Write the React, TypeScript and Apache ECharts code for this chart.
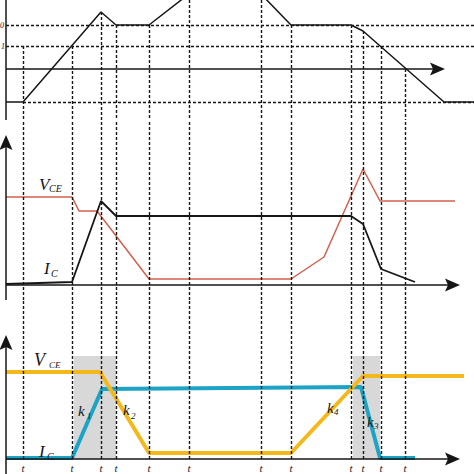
import React, { useEffect, useRef } from 'react';
import * as echarts from 'echarts';

// switching instants (time axis) and their labels
const tValues = [17, 66, 95, 110, 143, 183, 255, 285, 345, 357, 375, 399];
const tickLabels = ['t', 't', 't', 't', 't', 't', 't', 't', 't', 't', 't', 't'];
// level where each dashed guide starts in the top panel
const tStartTop = [23, 23, 57, 44, 44, 69, 69, 44, 44, 38, 23, 0];

// top panel waveform
const topX = [0, 17, 95, 110, 143, 224, 285, 345, 357, 438, 468];
const topY = [-33, -33, 57, 44, 44, 107, 44, 44, 38, -33, -33];
const topRefLevels = [44, 23, -33];
const topRefStart = [0, 0, 17];

// middle panel (measured)
const midVceX = [0, 66, 73, 91, 143, 285, 318, 357, 374, 449];
const midVceY = [88, 88, 74, 74, 6, 6, 28, 116, 84, 84];
const midIcX = [0, 66, 95, 110, 345, 357, 375, 409];
const midIcY = [1, 3, 84, 69, 69, 61, 16, 3];

// bottom panel (idealised)
const botVceX = [0, 94, 143, 285, 357, 458];
const botVceY = [87, 87, 6, 6, 83, 83];
const botIcX = [0, 66, 96, 355, 374, 409];
const botIcY = [1, 1, 70, 72, 1, 1];
const shadeStart = [68, 347];
const shadeEnd = [110, 374];
const shadeTop = 103;

const pts = (xs: number[], ys: number[]) => xs.map((x, i) => [x, ys[i]]);

const ARROW = 'path://M6.5,0 L13,15 L6.5,12 L0,15 Z';
const SERIF = '"Liberation Serif", "DejaVu Serif", serif';
const INK = '#161616';

const dash = { color: INK, width: 1.4, type: [3, 2] as any, opacity: 1 };
const solid = { color: INK, width: 1.5, type: 'solid' as any, opacity: 1 };

function guideSeries(grid: number, lines: any[], style: any, z: number) {
  return {
    type: 'line',
    xAxisIndex: grid,
    yAxisIndex: grid,
    data: [],
    z,
    silent: true,
    markLine: {
      silent: true,
      symbol: ['none', 'none'],
      label: { show: false },
      emphasis: { disabled: true },
      lineStyle: style,
      data: lines,
    },
  };
}

function txt(text: string, x: number, y: number, size: number) {
  return {
    type: 'text',
    x,
    y,
    z: 100,
    silent: true,
    style: {
      text,
      fill: INK,
      font: `italic ${size}px ${SERIF}`,
      align: 'left',
      verticalAlign: 'middle',
    },
  };
}

export default function App() {
  const ref = useRef<HTMLDivElement>(null);
  useEffect(() => {
    const chart = echarts.init(ref.current!, null, { renderer: 'svg' });
    const xMax = 468;
    const topVert = tValues.map((t, i) => [{ coord: [t, tStartTop[i]] }, { coord: [t, -51] }]);
    const topHor = topRefLevels.map((lv, i) => [{ coord: [topRefStart[i], lv] }, { coord: [xMax, lv] }]);
    const midVert = tValues.map((t) => [{ coord: [t, -15] }, { coord: [t, 165] }]);
    const botVert = tValues.map((t) => [{ coord: [t, 0] }, { coord: [t, 159] }]);

    const arrowEnd = (x: number, y: number) => ({ coord: [x, y], symbol: ARROW, symbolSize: 15, symbolKeepAspect: true });

    const gridBase = { left: 6, width: 468, containLabel: false, outerBoundsMode: 'none' };

    const option: any = {
      animation: false,
      backgroundColor: '#ffffff',
      grid: [
        { ...gridBase, top: 0, height: 120 },
        { ...gridBase, top: 120, height: 180 },
        { ...gridBase, top: 300, height: 174 },
        // label strip: its bottom edge is the time axis of the bottom panel
        { ...gridBase, top: 300, height: 159 },
      ],
      xAxis: [
        { gridIndex: 0, type: 'value', min: 0, max: xMax, show: false },
        { gridIndex: 1, type: 'value', min: 0, max: xMax, show: false },
        { gridIndex: 2, type: 'value', min: 0, max: xMax, show: false },
        {
          gridIndex: 3,
          type: 'value',
          position: 'bottom',
          min: 0,
          max: xMax,
          axisLine: { show: false },
          axisTick: { show: false },
          splitLine: { show: false },
          axisLabel: {
            customValues: tValues,
            margin: 3,
            color: INK,
            fontFamily: SERIF,
            fontStyle: 'italic',
            fontSize: 11,
            lineHeight: 11,
            formatter: (v: number) => tickLabels[tValues.indexOf(v)] || 't',
          },
        },
      ],
      yAxis: [
        { gridIndex: 0, type: 'value', min: -51, max: 69, show: false },
        { gridIndex: 1, type: 'value', min: -15, max: 165, show: false },
        { gridIndex: 2, type: 'value', min: -15, max: 159, show: false },
        { gridIndex: 3, type: 'value', min: 0, max: 159, show: false },
      ],
      series: [
        // top panel
        guideSeries(0, [...topVert, ...topHor], dash, 2),
        guideSeries(0, [
          [{ coord: [0, -51] }, { coord: [0, 69] }],
          [{ coord: [0, 0] }, arrowEnd(431.5, 0)],
        ], solid, 2),
        {
          type: 'line', xAxisIndex: 0, yAxisIndex: 0, data: pts(topX, topY), symbol: 'none', silent: true, z: 3,
          lineStyle: { color: INK, width: 1.5 },
        },
        // middle panel
        guideSeries(1, midVert, dash, 2),
        guideSeries(1, [
          [{ coord: [0, -15] }, arrowEnd(0, 142.5)],
          [{ coord: [0, 0] }, arrowEnd(446.5, 0)],
        ], solid, 2),
        {
          type: 'line', xAxisIndex: 1, yAxisIndex: 1, data: pts(midVceX, midVceY), symbol: 'none', silent: true, z: 3,
          lineStyle: { color: '#d2604c', width: 1.5 },
        },
        {
          type: 'line', xAxisIndex: 1, yAxisIndex: 1, data: pts(midIcX, midIcY), symbol: 'none', silent: true, z: 4,
          lineStyle: { color: INK, width: 1.8 },
        },
        // bottom panel
        {
          type: 'line', xAxisIndex: 2, yAxisIndex: 2, data: [], z: 1, silent: true,
          markArea: {
            silent: true,
            itemStyle: { color: '#d8d8d8' },
            label: { show: false },
            emphasis: { disabled: true },
            data: shadeStart.map((s, i) => [{ coord: [s, 0] }, { coord: [shadeEnd[i], shadeTop] }]),
          },
        },
        guideSeries(2, botVert, dash, 2),
        guideSeries(2, [
          [{ coord: [0, -15] }, arrowEnd(0, 116.5)],
          [{ coord: [0, 0] }, arrowEnd(446.5, 0)],
        ], solid, 2),
        {
          type: 'line', xAxisIndex: 2, yAxisIndex: 2, data: pts(botIcX, botIcY), symbol: 'none', silent: true, z: 3,
          lineStyle: { color: '#1ca3c5', width: 4 },
        },
        {
          type: 'line', xAxisIndex: 2, yAxisIndex: 2, data: pts(botVceX, botVceY), symbol: 'none', silent: true, z: 4,
          lineStyle: { color: '#f5b81a', width: 4 },
        },
      ],
      graphic: [
        txt('0', 0, 25, 8),
        txt('1', 1, 46, 8),
        // middle panel labels
        txt('V', 39, 184, 17),
        txt('CE', 49, 188, 10),
        txt('I', 44, 268, 17),
        txt('C', 51, 273, 10),
        // bottom panel labels
        txt('V', 34, 360, 18),
        txt('CE', 49, 365, 9),
        txt('I', 39, 451, 17),
        txt('C', 47, 456, 10),
        txt('k', 78, 411, 15),
        txt('1', 87, 416, 9),
        txt('k', 123, 410, 15),
        txt('2', 131, 416, 9),
        txt('k', 327, 408, 15),
        txt('4', 334, 412, 9),
        txt('k', 367, 422, 15),
        txt('3', 374, 426, 9),
      ],
    };
    chart.setOption(option);
    return () => chart.dispose();
  }, []);
  return (
    <div
      ref={ref}
      style={{ position: 'fixed', left: 0, top: 0, width: 474, height: 474, background: '#fff' }}
    />
  );
}
